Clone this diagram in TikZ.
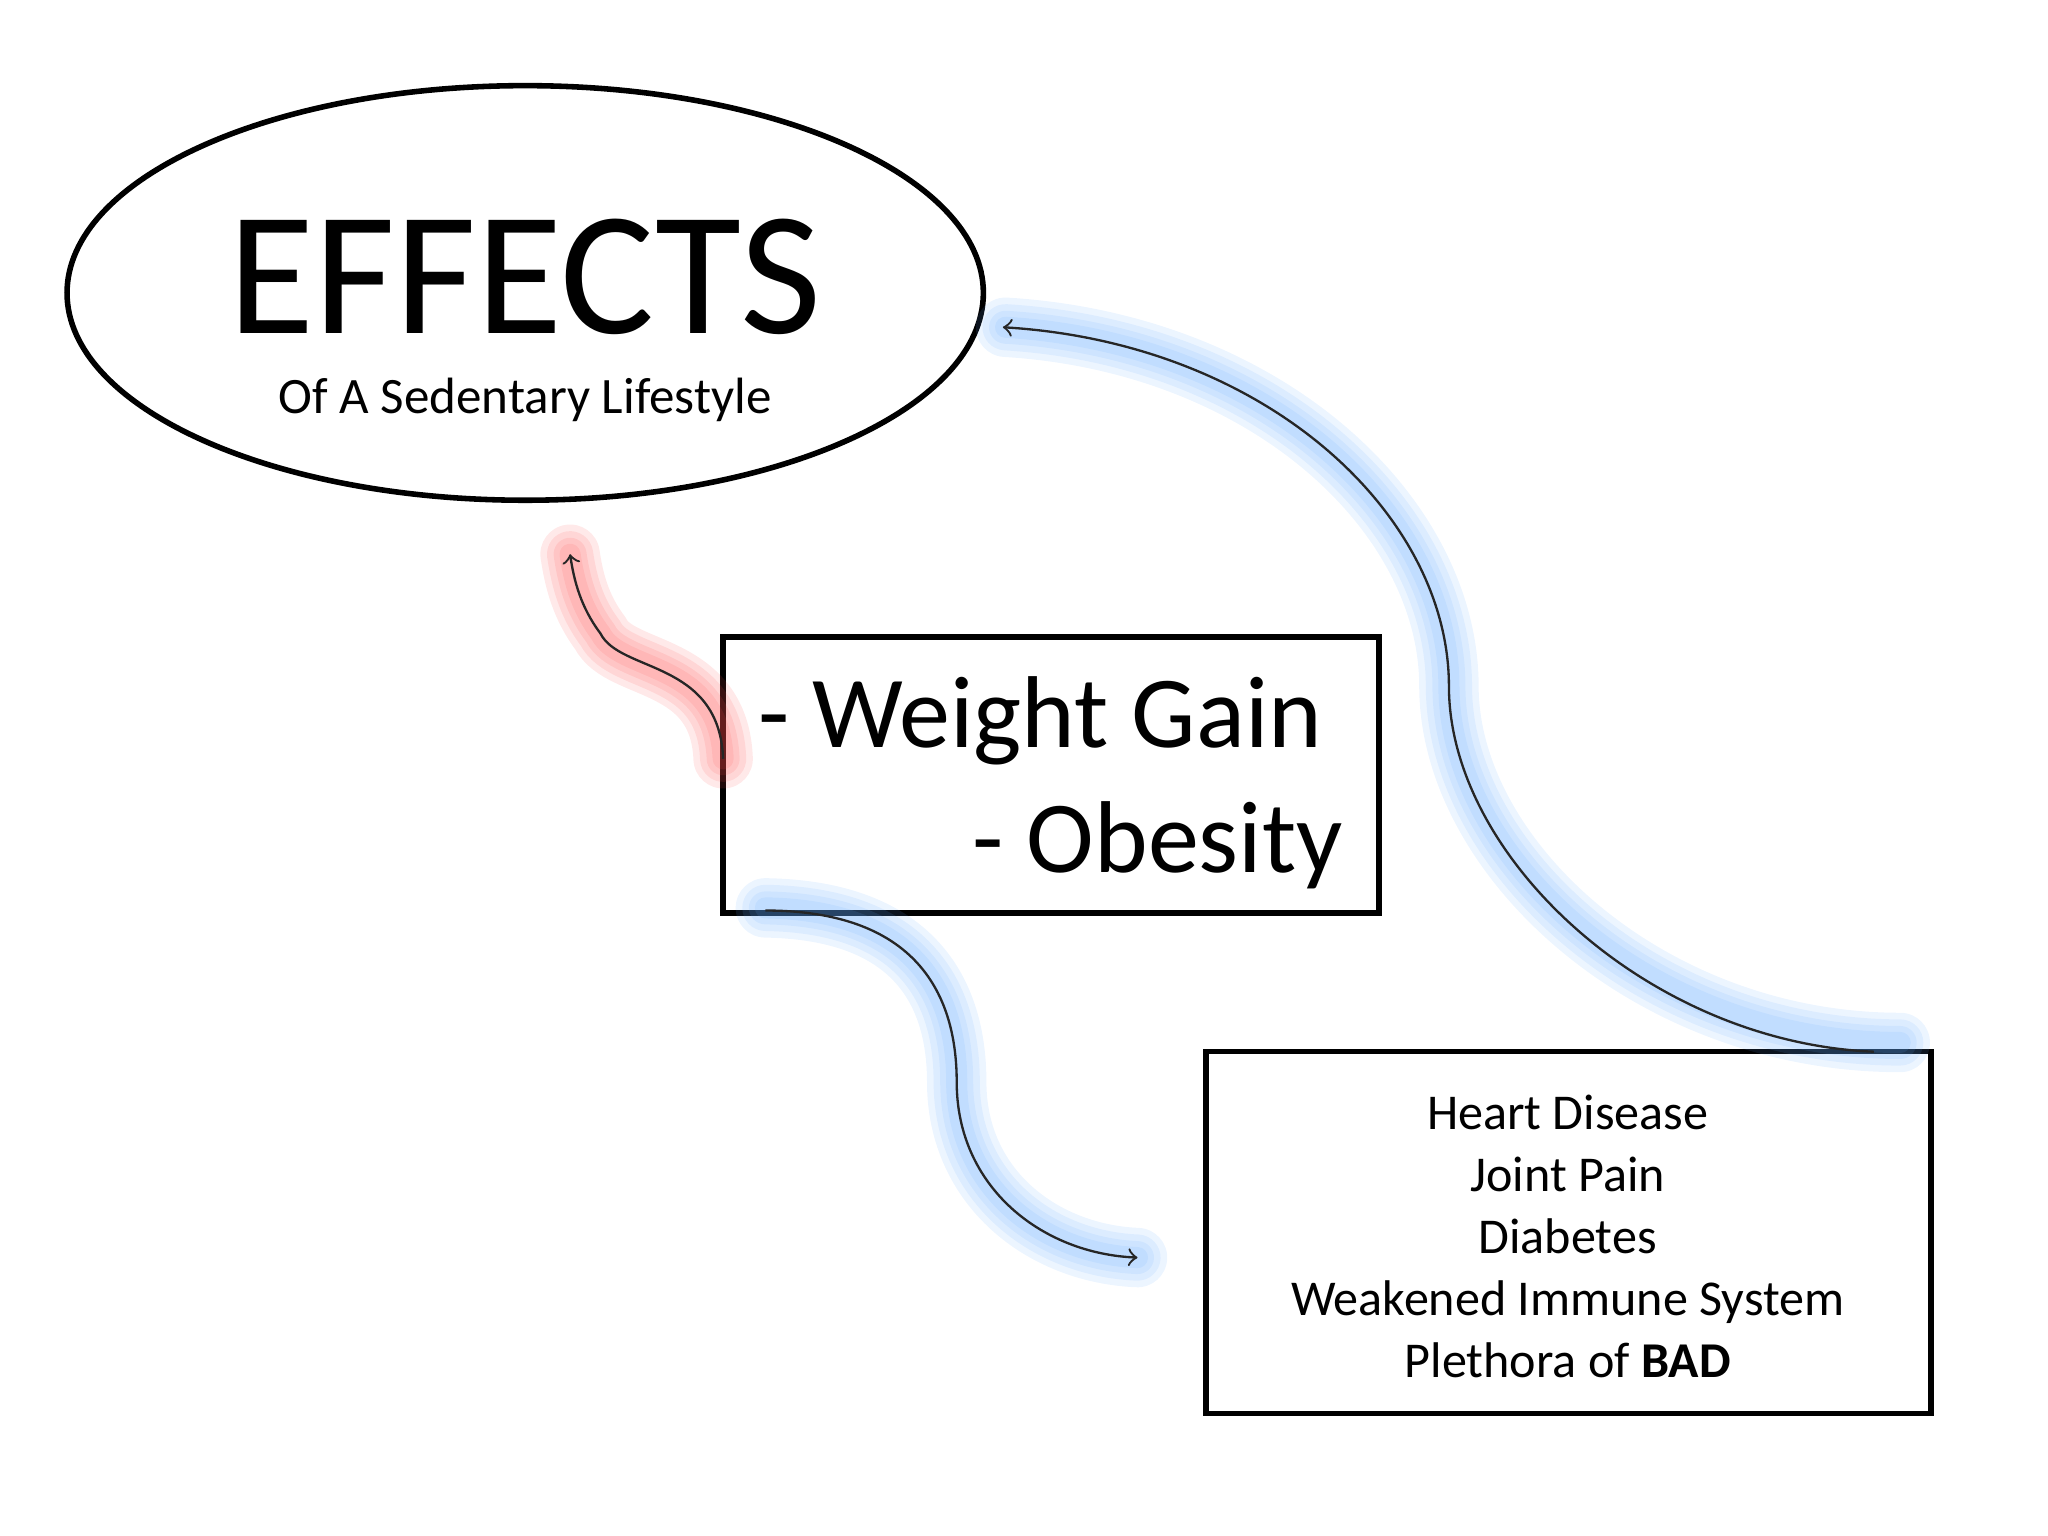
\documentclass[tikz,border=0pt]{standalone}
\usepackage{fontspec}
\usetikzlibrary{shapes.geometric}
\setmainfont{Carlito}
\begin{document}
\begin{tikzpicture}[x=0.01cm,y=-0.01cm,
  glowblue/.style={draw=blue!55!cyan!60, line cap=round, opacity=0.12},
  glowred/.style={draw=red!70, line cap=round, opacity=0.12},
  conn/.style={draw=black!85, line width=0.5pt},
  boxs/.style={draw, line width=1.2pt, inner sep=0pt}]
\useasboundingbox (0,0) rectangle (1552,1164);
\node[draw, ellipse, line width=1.2pt, minimum width=6.94cm, minimum height=3.14cm, inner sep=0pt] (ell) at (398,222) {};
\node[font=\fontsize{38}{38}\selectfont] (eff) at (398,210) {EFFECTS};
\node[font=\fontsize{11}{13}\selectfont] (sub) at (398,303) {Of A Sedentary Lifestyle};
\node[boxs, minimum width=4.97cm, minimum height=2.09cm] (b1) at (796.5,587.5) {};
\node[align=left, font=\fontsize{22}{27}\selectfont] (t1) at (796,593) {- Weight Gain\\\hspace*{2.1em}- Obesity};
\node[boxs, minimum width=5.49cm, minimum height=2.74cm] (b2) at (1188.5,934) {};
\node[align=center, font=\fontsize{10.8}{13.4}\selectfont] (t2) at (1188,937) {Heart Disease\\Joint Pain\\Diabetes\\Weakened Immune System\\Plethora of \textbf{BAD}};
\foreach \w in {4.5,3.5,2.5,1.6}{
 \draw[glowred, line width=\w mm] (548,575) .. controls (545,500) and (470,510) .. (455,480) .. controls (440,460) and (435,440) .. (432,420);
 \draw[glowblue, line width=\w mm] (1440,790) .. controls (1250,790) and (1098,650) .. (1098,520) .. controls (1098,390) and (960,260) .. (762,248);
 \draw[glowblue, line width=\w mm] (580,688) .. controls (700,690) and (725,760) .. (725,820) .. controls (725,900) and (790,950) .. (862,953);
}
\coordinate (r0) at (548,575); \coordinate (r1) at (432,420);
\coordinate (a0) at (1420,797); \coordinate (a1) at (760,248);
\coordinate (c0) at (580,690); \coordinate (c1) at (862,953);
\draw[conn,->] (r0) .. controls (545,500) and (470,510) .. (455,480) .. controls (440,460) and (435,440) .. (r1);
\draw[conn,->] (a0) .. controls (1250,790) and (1098,650) .. (1098,520) .. controls (1098,390) and (960,260) .. (a1);
\draw[conn,->] (c0) .. controls (700,690) and (725,760) .. (725,820) .. controls (725,900) and (790,950) .. (c1);
\end{tikzpicture}
\end{document}
